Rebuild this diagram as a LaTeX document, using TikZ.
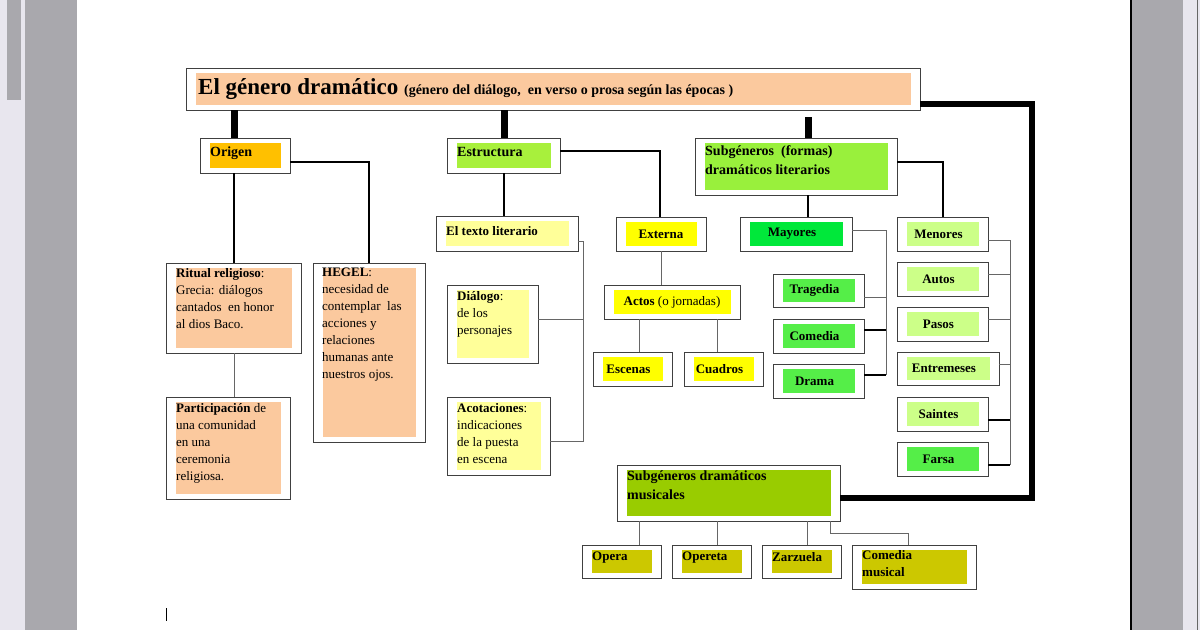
\documentclass[tikz,border=0pt]{standalone}
\usepackage{fontspec}
\setmainfont{Liberation Serif}
\usetikzlibrary{fit}
\definecolor{peach}{HTML}{FBC99E}
\definecolor{gold}{HTML}{FFC000}
\definecolor{lime}{HTML}{A8F03C}
\definecolor{lyel}{HTML}{FFFF99}
\definecolor{yel}{HTML}{FFFF00}
\definecolor{sgreen}{HTML}{99F03C}
\definecolor{mgreen}{HTML}{00E83A}
\definecolor{tgreen}{HTML}{55EE48}
\definecolor{pgreen}{HTML}{CCFF88}
\definecolor{musg}{HTML}{99CC00}
\definecolor{olive}{HTML}{CCC800}
\definecolor{wingrey}{HTML}{A9A8AD}
\definecolor{winlight}{HTML}{E8E6EE}
\tikzset{
 outerbox/.style={draw=black!75,line width=0.9pt,fill=white,inner sep=0pt},
 thick1/.style={line width=7pt},
 med/.style={line width=2.6pt},
 thin/.style={line width=0.9pt,draw=black!60},
 thinb/.style={line width=1.4pt},
 lbl/.style={anchor=north west,inner sep=0pt,align=left,font=\fontsize{13}{17}\selectfont},
 clbl/.style={anchor=center,inner sep=0pt,font=\fontsize{13}{17}\selectfont\bfseries},
}
% \bx{name}{ox1}{oy1}{ox2}{oy2}{ix1}{iy1}{ix2}{iy2}{color}
\newcommand{\bx}[9]{%
 \node[outerbox,fit={(#2,#3)(#4,#5)}] (#1) {};
 \fill[#9] (#6,#7) rectangle (#8,#8@);}
\newcommand{\bxx}[6]{% name, outer x1 y1 x2 y2, color ; inner inset
 \node[outerbox,fit={(#2,#3)(#4,#5)}] (#1) {};
 \fill[#6] ([xshift=10pt,yshift=-5pt]#1.north west) rectangle ([xshift=-9pt,yshift=5pt]#1.south east);}
\begin{document}
\begin{tikzpicture}[x=1pt,y=-1pt]
\useasboundingbox (0,0) rectangle (1200,630);
% window chrome
\fill[white] (0,0) rectangle (1200,630);
\fill[winlight] (0,0) rectangle (25,630);
\fill[wingrey] (7,0) rectangle (21,100);
\fill[wingrey] (25,0) rectangle (77,630);
\fill[wingrey] (1131,0) rectangle (1183,630);
\draw[line width=1.5pt] (1131,0) -- (1131,630);
\fill[winlight] (1183,0) rectangle (1200,630);
\draw[black!60] (1197,0) -- (1197,630);
\draw (166,608) -- (166,621);

% title
\bxx{title}{186}{68}{920}{110}{peach}
\node[anchor=west,inner sep=0pt] at (198,89) {\fontsize{23}{26}\selectfont\bfseries El género dramático \fontsize{14}{16}\selectfont(género del diálogo,\ \ en verso o prosa según las épocas )};

% Origen branch
\bxx{orig}{200}{138}{290}{173}{gold}
\node[lbl,font=\fontsize{14}{17}\selectfont\bfseries] at (210,147) {Origen};
\bxx{rit}{166}{263}{301}{353}{peach}
\node[lbl] at (176,268) {\textbf{Ritual religioso}:\\Grecia: diálogos\\cantados\ \ en honor\\al dios Baco.};
\bxx{part}{166}{397}{290}{499}{peach}
\node[lbl] at (176,403) {\textbf{Participación} de\\una comunidad\\en una\\ceremonia\\religiosa.};
\bxx{heg}{313}{263}{425}{442}{peach}
\node[lbl] at (322,268) {\textbf{HEGEL}:\\necesidad de\\contemplar\ \ las\\acciones y\\relaciones\\humanas ante\\nuestros ojos.};

% Estructura branch
\bxx{est}{447}{138}{560}{173}{lime}
\node[lbl,font=\fontsize{14}{17}\selectfont\bfseries] at (457,147) {Estructura};
\bxx{tex}{436}{216}{578}{251}{lyel}
\node[lbl,font=\fontsize{13}{17}\selectfont\bfseries] at (446,226) {El texto literario};
\bxx{dia}{447}{285}{538}{363}{lyel}
\node[lbl] at (457,291) {\textbf{Diálogo}:\\de los\\personajes};
\bxx{aco}{447}{397}{550}{475}{lyel}
\node[lbl] at (457,403) {\textbf{Acotaciones}:\\indicaciones\\de la puesta\\en escena};
\bxx{ext}{616}{217}{706}{251}{yel}
\node[clbl] at (ext.center) {Externa};
\bxx{act}{604}{285}{740}{319}{yel}
\node[clbl] at (act.center) {Actos \mdseries(o jornadas)};
\bxx{esc}{593}{352}{672}{386}{yel}
\node[clbl] at ([xshift=-4pt]esc.center) {Escenas};
\bxx{cua}{684}{352}{763}{386}{yel}
\node[clbl] at ([xshift=-4pt]cua.center) {Cuadros};

% Subgeneros literarios
\bxx{sub}{695}{138}{897}{195}{sgreen}
\node[lbl,font=\fontsize{14}{19}\selectfont\bfseries] at (705,145) {Subgéneros\ \ (formas)\\dramáticos literarios};
\bxx{may}{740}{217}{852}{251}{mgreen}
\node[clbl] at ([xshift=-4pt]may.center) {Mayores};
\bxx{tra}{773}{274}{864}{307}{tgreen}
\node[clbl] at ([xshift=-4pt]tra.center) {Tragedia};
\bxx{com}{773}{319}{864}{353}{tgreen}
\node[clbl] at ([xshift=-4pt]com.center) {Comedia};
\bxx{dra}{773}{364}{864}{398}{tgreen}
\node[clbl] at ([xshift=-4pt]dra.center) {Drama};
\bxx{men}{897}{217}{988}{251}{pgreen}
\node[clbl] at ([xshift=-4pt]men.center) {Menores};
\bxx{aut}{897}{262}{988}{296}{pgreen}
\node[clbl] at ([xshift=-4pt]aut.center) {Autos};
\bxx{pas}{897}{307}{988}{341}{pgreen}
\node[clbl] at ([xshift=-4pt]pas.center) {Pasos};
\bxx{ent}{897}{352}{999}{385}{pgreen}
\node[clbl] at ([xshift=-4pt]ent.center) {Entremeses};
\bxx{sai}{897}{397}{988}{431}{pgreen}
\node[clbl] at ([xshift=-4pt]sai.center) {Saintes};
\bxx{far}{897}{442}{988}{476}{tgreen}
\node[clbl] at ([xshift=-4pt]far.center) {Farsa};

% musicales
\bxx{mus}{617}{465}{840}{521}{musg}
\node[lbl,font=\fontsize{14}{19}\selectfont\bfseries] at (627,471) {Subgéneros dramáticos\\musicales};
\bxx{ope}{582}{545}{661}{578}{olive}
\node[lbl,font=\fontsize{13}{17}\selectfont\bfseries] at (592,552) {Opera};
\bxx{opt}{672}{545}{751}{578}{olive}
\node[lbl,font=\fontsize{13}{17}\selectfont\bfseries] at (682,552) {Opereta};
\bxx{zar}{762}{545}{841}{578}{olive}
\node[lbl,font=\fontsize{13}{17}\selectfont\bfseries] at (772,552) {Zarzuela};
\bxx{cmu}{852}{545}{976}{589}{olive}
\node[lbl,font=\fontsize{13}{17}\selectfont\bfseries] at (862,550) {Comedia\\musical};

% connectors: thick from title
\draw[thick1] (title.south -| 234,0) -- (orig.north -| 234,0);
\draw[thick1] (title.south -| 504,0) -- (est.north -| 504,0);
\draw[thick1] (808,117) -- (sub.north -| 808,0);
\draw[line width=6pt] (title.east |- 0,104) -- (1032,104) -- (1032,498) -- (mus.east |- 0,498);
% medium
\draw[med] (orig.south -| 234,0) -- (rit.north -| 234,0);
\draw[med] (orig.east |- 0,162) -- (369,162) -- (heg.north -| 369,0);
\draw[med] (est.south -| 504,0) -- (tex.north -| 504,0);
\draw[med] (est.east |- 0,151) -- (660,151) -- (ext.north -| 660,0);
\draw[med] (sub.south -| 808,0) -- (may.north -| 808,0);
\draw[med] (sub.east |- 0,162) -- (943,162) -- (men.north -| 943,0);
% thin
\draw[thin] (rit.south -| 234,0) -- (part.north -| 234,0);
\draw[thin] (tex.east |- 0,241) -- (583,241) -- (583,441) -- (aco.east |- 0,441);
\draw[thin] (dia.east |- 0,319) -- (583,319);
\draw[thin] (ext.south -| 661,0) -- (act.north -| 661,0);
\draw[thin] (act.south -| 639,0) -- (esc.north -| 639,0);
\draw[thin] (act.south -| 717,0) -- (cua.north -| 717,0);
\draw[thin] (may.east |- 0,230) -- (886,230) -- (886,375);
\draw[thin] (tra.east |- 0,297) -- (886,297);
\draw[thinb] (com.east |- 0,330) -- (886,330);
\draw[thinb] (dra.east |- 0,375) -- (886,375);
\draw[thin] (men.east |- 0,240) -- (1010,240) -- (1010,465);
\draw[thin] (aut.east |- 0,274) -- (1010,274);
\draw[thin] (pas.east |- 0,319) -- (1010,319);
\draw[thin] (ent.east |- 0,364) -- (1010,364);
\draw[thinb] (sai.east |- 0,420) -- (1010,420);
\draw[thinb] (far.east |- 0,465) -- (1010,465);
\draw[thin] (mus.south -| 639,0) -- (ope.north -| 639,0);
\draw[thin] (mus.south -| 717,0) -- (opt.north -| 717,0);
\draw[thin] (mus.south -| 807,0) -- (zar.north -| 807,0);
\draw[thin] (mus.south -| 830,0) -- (830,533) -- (908,533) -- (cmu.north -| 908,0);
\end{tikzpicture}
\end{document}
